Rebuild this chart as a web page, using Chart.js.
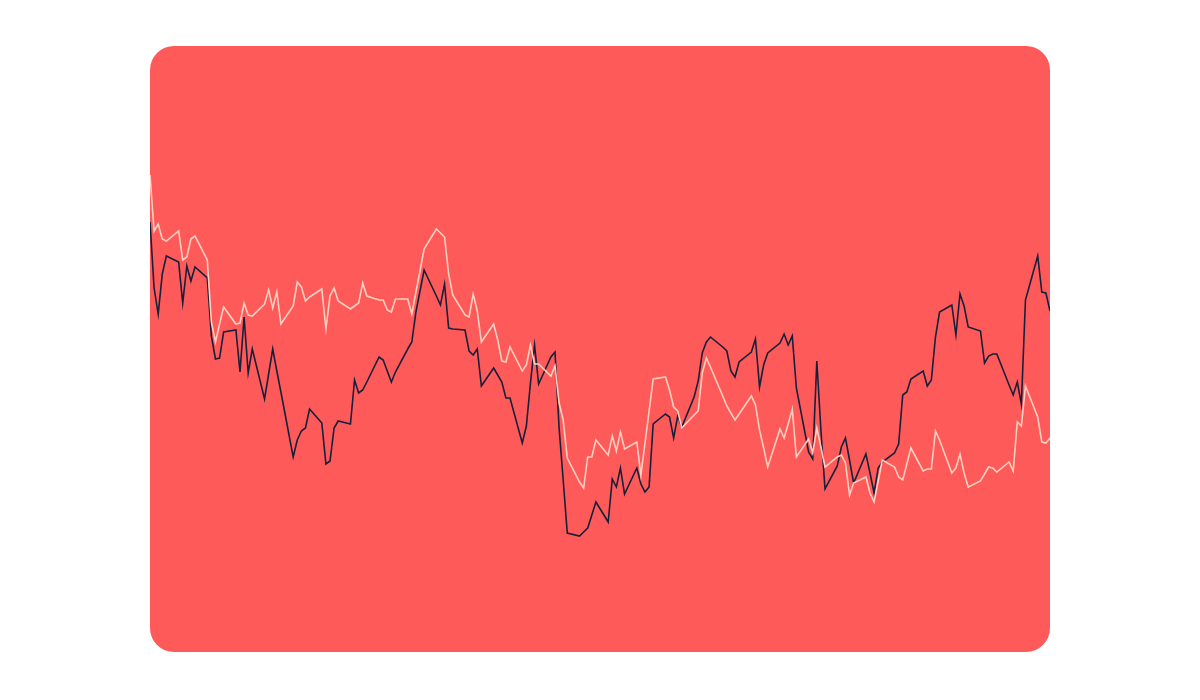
<!DOCTYPE html>
<html>
<head>
<meta charset="utf-8">
<style>
  html, body { margin: 0; padding: 0; background: #ffffff; }
  #wrap { width: 1200px; height: 700px; }
</style>
<script src="https://cdn.jsdelivr.net/npm/chart.js@4.4.1/dist/chart.umd.min.js"></script>
</head>
<body>
<div id="wrap"><canvas id="c" width="1200" height="700"></canvas></div>
<script>
// Calendar: daily trading sessions (Mon–Fri) starting on this Monday
const startDate = '2024-01-01';
const calendarDays = 220;

// Series values, one per trading day (weekends are skipped)
const darkSeries = [
  43.0, 36.4, 33.8, 37.8, 39.6,
  39.0, 34.9, 38.6, 37.1, 38.5,
  37.4, 31.6, 29.3, 29.4, 32.0,
  32.2, 28.0, 33.5, 27.9, 30.3,
  25.3, 27.8, 30.3, 28.1, 26.0,
  19.5, 21.2, 22.1, 22.4, 24.3,
  22.9, 18.8, 19.1, 22.4, 23.1,
  22.8, 27.2, 25.9, 26.2, 27.0,
  29.5, 29.2, 28.1, 27.0, 28.0,
  30.3, 31.0, 34.0, 36.1, 38.2,
  35.6, 34.7, 36.8, 32.4, 32.3,
  32.2, 30.1, 29.7, 30.3, 26.6,
  28.4, 27.7, 27.0, 25.4, 25.4,
  20.9, 22.6, 26.9, 30.7, 26.8,
  29.5, 30.0, 22.4, 17.2, 11.9,
  11.6, 12.0, 12.4, 13.7, 15.0,
  13.0, 17.3, 16.5, 18.4, 15.8,
  18.4, 16.8, 16.0, 16.5, 22.8,
  23.8, 23.5, 21.4, 23.6, 22.5,
  25.5, 27.1, 29.9, 31.0, 31.5,
  30.5, 30.1, 28.1, 27.5, 29.0,
  30.0, 31.3, 26.5, 28.7, 29.9,
  30.9, 31.8, 30.7, 31.6, 26.4,
  20.0, 19.3, 29.1, 22.2, 16.3,
  18.6, 20.5, 21.4, 19.2, 16.9,
  19.8, 17.9, 15.9, 18.4, 19.0,
  19.9, 20.8, 25.7, 26.0, 27.3,
  28.1, 26.6, 27.2, 31.5, 34.0,
  34.7, 31.7, 35.8, 34.6, 32.5,
  32.1, 28.9, 29.6, 29.8, 29.8,
  26.7, 25.7, 27.0, 24.8, 35.2,
  39.6, 36.0, 35.9, 34.1
];

const lightSeries = [
  47.7, 42.1, 42.8, 41.3, 41.1,
  42.1, 39.2, 39.5, 41.3, 41.6,
  39.2, 33.0, 31.0, 32.8, 34.5,
  32.8, 32.9, 34.9, 33.7, 33.6,
  34.8, 36.2, 34.4, 36.0, 32.8,
  34.6, 37.0, 36.5, 35.1, 35.5,
  36.3, 32.3, 35.6, 36.4, 35.1,
  34.3, 34.6, 34.9, 36.9, 35.6,
  35.2, 35.2, 34.2, 34.0, 35.3,
  35.3, 33.8, 36.0, 38.1, 40.3,
  42.3, 41.9, 41.5, 37.8, 35.7,
  33.7, 33.5, 35.8, 34.1, 31.0,
  32.8, 31.2, 29.1, 29.0, 30.5,
  28.1, 28.7, 30.7, 28.8, 28.8,
  27.6, 28.6, 24.9, 23.2, 19.4,
  17.0, 16.4, 19.5, 19.5, 21.2,
  19.7, 21.6, 20.1, 22.0, 20.3,
  21.0, 17.7, 20.9, 24.1, 27.3,
  27.5, 26.2, 24.5, 24.1, 22.4,
  23.7, 24.1, 27.9, 29.4, 28.5,
  25.6, 24.6, 23.9, 23.2, 23.8,
  25.6, 24.7, 22.2, 20.4, 18.5,
  22.3, 21.4, 22.8, 24.3, 19.5,
  21.3, 19.9, 22.4, 20.5, 18.5,
  19.5, 19.7, 18.9, 15.7, 16.9,
  17.5, 15.9, 15.0, 17.1, 19.2,
  18.5, 17.5, 17.2, 18.8, 20.4,
  18.1, 18.3, 18.3, 22.1, 21.2,
  17.9, 18.4, 19.8, 17.9, 16.5,
  17.1, 17.8, 18.5, 18.4, 18.0,
  19.0, 18.1, 23.0, 22.6, 26.6,
  23.5, 21.0, 20.9, 21.4
];

const valueMin = 0;
const valueMax = 60.6;

// Build trading-day offsets (calendar days since start, weekdays only)
const start = new Date(startDate + 'T00:00:00Z');
const tradingDays = [];
for (let d = 0; d <= calendarDays; d++) {
  const dt = new Date(start.getTime() + d * 86400000);
  const wd = dt.getUTCDay();
  if (wd >= 1 && wd <= 5) tradingDays.push(d);
}

const toPoints = (vals) => vals.map((v, i) => ({ x: tradingDays[i], y: v }));

const bgPlugin = {
  id: 'roundedBg',
  beforeDraw(chart) {
    const { ctx, chartArea: a } = chart;
    ctx.save();
    ctx.fillStyle = '#ff5a5a';
    ctx.beginPath();
    ctx.roundRect(a.left, a.top, a.right - a.left, a.bottom - a.top, 24);
    ctx.fill();
    ctx.restore();
  }
};

new Chart(document.getElementById('c'), {
  type: 'line',
  data: {
    datasets: [
      {
        label: 'Light',
        data: toPoints(lightSeries),
        borderColor: '#ffd0c0',
        borderWidth: 1.6,
        pointRadius: 0,
        tension: 0,
        fill: false
      },
      {
        label: 'Dark',
        data: toPoints(darkSeries),
        borderColor: '#16203b',
        borderWidth: 1.6,
        pointRadius: 0,
        tension: 0,
        fill: false
      }
    ]
  },
  options: {
    responsive: false,
    animation: false,
    devicePixelRatio: 1,
    layout: { padding: { left: 150, right: 150, top: 46, bottom: 48 } },
    plugins: { legend: { display: false }, tooltip: { enabled: false } },
    scales: {
      x: { type: 'linear', min: 0, max: calendarDays, display: false },
      y: { min: valueMin, max: valueMax, display: false }
    }
  },
  plugins: [bgPlugin]
});
</script>
</body>
</html>
